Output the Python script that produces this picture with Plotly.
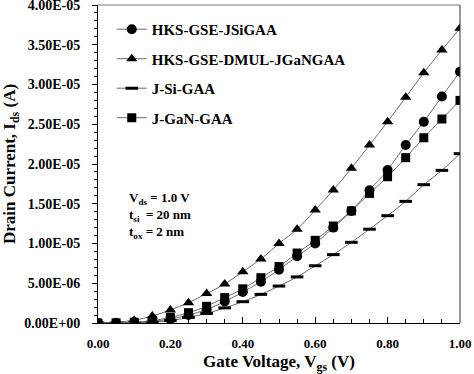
import plotly.graph_objects as go

gate_voltage = [0.00, 0.05, 0.10, 0.15, 0.20, 0.25, 0.30, 0.35, 0.40, 0.45, 0.50,
                0.55, 0.60, 0.65, 0.70, 0.75, 0.80, 0.85, 0.90, 0.95, 1.00]

hks_jsigaa = [0.0, 0.001, 0.005, 0.02, 0.05, 0.10, 0.17, 0.27, 0.39, 0.52, 0.67,
              0.84, 1.00, 1.20, 1.41, 1.67, 1.925, 2.24, 2.53, 2.85, 3.16]
hks_dmul_jgangaa = [0.0, 0.01, 0.035, 0.088, 0.164, 0.255, 0.37, 0.49, 0.645, 0.805, 1.00,
                    1.18, 1.42, 1.673, 1.946, 2.239, 2.532, 2.839, 3.148, 3.434, 3.707]
j_si_gaa = [0.0, 0.0, 0.003, 0.01, 0.03, 0.07, 0.12, 0.19, 0.268, 0.36, 0.465,
            0.58, 0.72, 0.86, 1.015, 1.18, 1.35, 1.53, 1.74, 1.92, 2.13]
j_gan_gaa = [0.0, 0.002, 0.01, 0.03, 0.07, 0.13, 0.21, 0.32, 0.43, 0.57, 0.71,
             0.88, 1.04, 1.22, 1.41, 1.63, 1.84, 2.08, 2.33, 2.566, 2.80]

series_names = ["HKS-GSE-JSiGAA", "HKS-GSE-DMUL-JGaNGAA", "J-Si-GAA", "J-GaN-GAA"]
series_values = [hks_jsigaa, hks_dmul_jgangaa, j_si_gaa, j_gan_gaa]
symbols = ["circle", "triangle-up", "line-ew", "square"]

y_tick_vals = [0, 5e-6, 1e-5, 1.5e-5, 2e-5, 2.5e-5, 3e-5, 3.5e-5, 4e-5]
y_tick_text = ["0.00E+00", "5.00E-06", "1.00E-05", "1.50E-05", "2.00E-05",
               "2.50E-05", "3.00E-05", "3.50E-05", "4.00E-05"]

FONT = "Liberation Serif"

fig = go.Figure()
for i, (name, vals, sym) in enumerate(zip(series_names, series_values, symbols)):
    y = [v * 1e-5 for v in vals]
    if sym == "line-ew":
        marker = dict(symbol=sym, size=9, color="black",
                      line=dict(color="black", width=3))
    else:
        marker = dict(symbol=sym, size=10 if sym != "square" else 9, color="black",
                      line=dict(width=0))
    fig.add_trace(go.Scatter(
        x=gate_voltage, y=y, name=name, mode="lines+markers",
        line=dict(color="#6a6a6a", width=1, shape="spline"),
        marker=marker, legendgroup=f"g{i}",
    ))

fig.update_layout(
    width=474, height=374,
    margin=dict(l=98, r=14, t=5, b=51, autoexpand=False),
    paper_bgcolor="white", plot_bgcolor="white",
    font=dict(family=FONT, color="black", size=13, weight="bold"),
    showlegend=True,
    legend=dict(x=0.038, y=0.975, xanchor="left", yanchor="top",
                font=dict(family=FONT, size=15, color="black", weight="bold"),
                bgcolor="rgba(0,0,0,0)", tracegroupgap=7, itemwidth=30),
    annotations=[dict(
        x=0.08, y=0.423, xref="paper", yref="paper", xanchor="left", yanchor="top",
        align="left", showarrow=False,
        text="V<sub>ds</sub> = 1.0 V<br>t<sub>si</sub>  = 20 nm<br>t<sub>ox</sub> = 2 nm",
        font=dict(family=FONT, size=13, color="black", weight="bold"),
    )],
    shapes=[
        dict(type="line", xref="paper", yref="paper", x0=0, x1=1, y0=1, y1=1,
             line=dict(color="#777777", width=1)),
        dict(type="line", xref="paper", yref="paper", x0=1, x1=1, y0=0, y1=1,
             line=dict(color="#333333", width=1)),
    ],
)

fig.update_xaxes(
    range=[0, 1.0], showgrid=False, zeroline=False, automargin=True,
    showline=True, linecolor="black", linewidth=1,
    tickvals=[0, 0.2, 0.4, 0.6, 0.8, 1.0], tickformat=".2f",
    ticks="inside", ticklen=6, tickcolor="black",
    minor=dict(dtick=0.05, ticks="inside", ticklen=4, tickcolor="black"),
    tickfont=dict(family=FONT, size=13, weight="bold"),
    ticklabeloverflow="allow", ticklabelstandoff=8,
    title=dict(text="Gate Voltage, V<sub>gs</sub> (V)", standoff=20,
               font=dict(family=FONT, size=17, weight="bold")),
)
fig.update_yaxes(
    range=[0, 4e-5], showgrid=False, zeroline=False, automargin=False,
    showline=True, linecolor="black", linewidth=1,
    tickvals=y_tick_vals, ticktext=y_tick_text,
    ticks="outside", ticklen=5, tickcolor="black",
    minor=dict(dtick=1e-6, ticks="outside", ticklen=3, tickcolor="black"),
    tickfont=dict(family=FONT, size=14, weight="bold"),
    ticklabeloverflow="allow", ticklabelstandoff=9,
    title=dict(text="Drain Current, I<sub>ds</sub> (A)", standoff=12,
               font=dict(family=FONT, size=17, weight="bold")),
)

fig.write_html(
    "out.html",
    config={"displayModeBar": False},
    post_script="document.body.style.margin='0';document.body.style.overflow='hidden';",
)
